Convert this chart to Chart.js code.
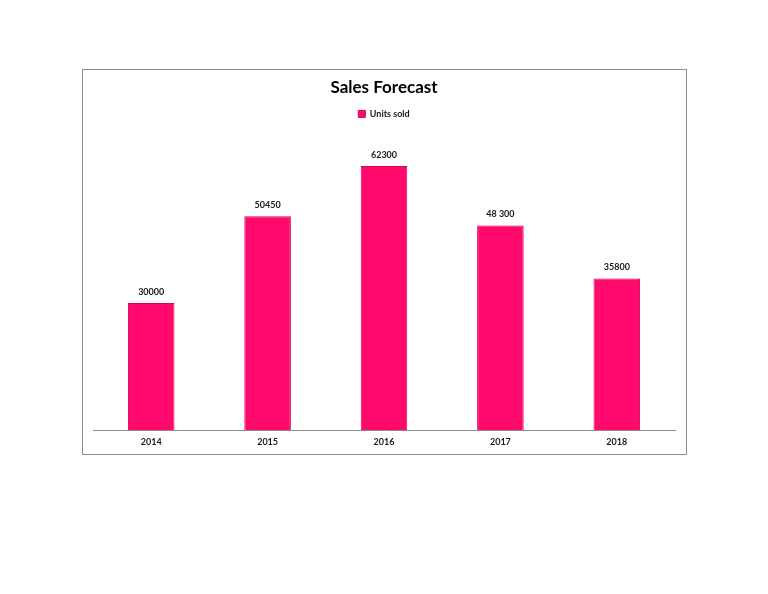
<!DOCTYPE html>
<html lang="en">
<head>
    <meta charset="UTF-8">
    <title>Sales Forecast</title>
    <script src="https://cdn.jsdelivr.net/npm/chart.js"></script>
    <style>
        body {
            margin: 0;
            background: #fff;
        }
        #chartBox {
            position: absolute;
            left: 82px;
            top: 69px;
            width: 603px;
            height: 384px;
            border: 1px solid #8c8c8c;
        }
    </style>
</head>
<body>
    <div id="chartBox">
        <canvas id="salesChart"></canvas>
    </div>

    <script>
        const years = ['2014', '2015', '2016', '2017', '2018'];
        const unitsSold = [30000, 50450, 62300, 48300, 35800];
        const labelText = ['30000', '50450', '62300', '48 300', '35800'];

        // draws the value above each bar
        const valueLabels = {
            id: 'valueLabels',
            afterDatasetsDraw(chart) {
                const ctx = chart.ctx;
                const meta = chart.getDatasetMeta(0);
                ctx.save();
                ctx.font = 'bold 9px Lato';
                ctx.fillStyle = '#1a1a1a';
                ctx.textAlign = 'center';
                ctx.textBaseline = 'middle';
                meta.data.forEach(function(bar, i) {
                    ctx.fillText(labelText[i], bar.x, bar.y - 11);
                });
                ctx.restore();
            }
        };

        // a bit more room under the legend
        const legendGap = {
            id: 'legendGap',
            beforeInit(chart) {
                const fit = chart.legend.fit;
                chart.legend.fit = function() {
                    fit.call(this);
                    this.height += 5;
                };
            }
        };

        const ctx = document.getElementById('salesChart').getContext('2d');
        new Chart(ctx, {
            type: 'bar',
            data: {
                labels: years,
                datasets: [{
                    label: 'Units sold',
                    data: unitsSold,
                    backgroundColor: '#ff0a6c',
                    borderColor: '#d9005a',
                    borderWidth: 1
                }]
            },
            options: {
                responsive: true,
                maintainAspectRatio: false,
                animation: false,
                layout: {
                    padding: { left: 10, right: 11, top: 0, bottom: 9 }
                },
                datasets: {
                    bar: { categoryPercentage: 1, barPercentage: 0.4 }
                },
                plugins: {
                    title: {
                        display: true,
                        text: 'Sales Forecast',
                        color: '#000',
                        font: { family: 'Lato', size: 17, weight: 'bold' },
                        padding: { top: 7, bottom: -4 }
                    },
                    legend: {
                        display: true,
                        labels: {
                            color: '#1a1a1a',
                            font: { family: 'Lato', size: 9, weight: 'bold' },
                            boxWidth: 7,
                            boxHeight: 7,
                            padding: 16
                        }
                    },
                    tooltip: { enabled: false }
                },
                scales: {
                    x: {
                        grid: { display: false },
                        border: { display: true, color: '#8c8c8c' },
                        ticks: {
                            color: '#1a1a1a',
                            font: { family: 'Lato', size: 9, weight: 'bold' },
                            padding: -2
                        }
                    },
                    y: {
                        display: false,
                        min: 0,
                        max: 70000
                    }
                }
            },
            plugins: [legendGap, valueLabels]
        });
    </script>
</body>
</html>
